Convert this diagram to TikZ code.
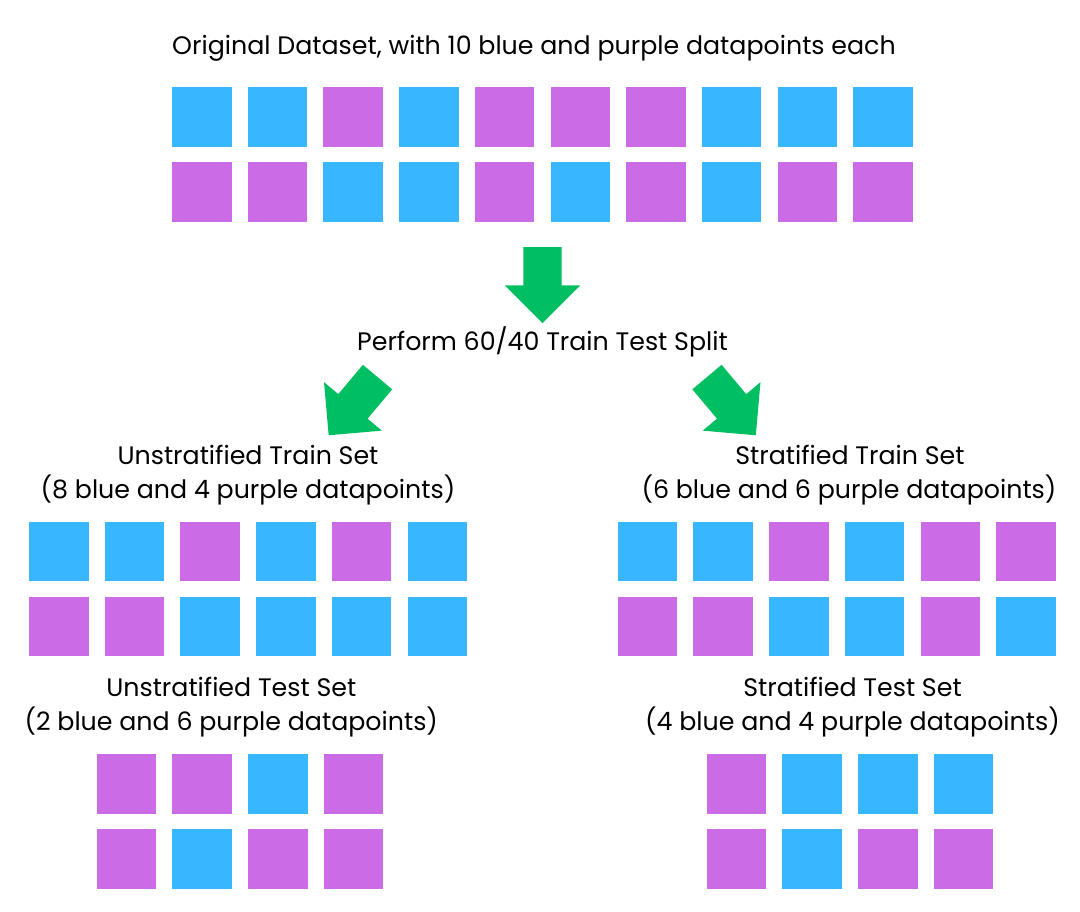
\documentclass[tikz,border=0pt]{standalone}
\usepackage{fontspec}
\setmainfont{Poppins}
\usetikzlibrary{shapes.arrows}

\definecolor{dpb}{HTML}{38B6FF}
\definecolor{dpp}{HTML}{CB6CE6}
\definecolor{arrowgreen}{HTML}{00BF63}

\begin{document}
\begin{tikzpicture}[x=1pt,y=-1pt]
        \tikzset{dp/.style = {fill=dp#1, minimum size=59.5pt, inner sep=0pt}}
        \tikzset{label/.style = {anchor=base, inner sep=0pt, font=\fontsize{25.3pt}{30pt}\selectfont}}
        \tikzset{bigarrow/.style = {single arrow, fill=arrowgreen, inner sep=0pt, inner ysep=18.9pt,
            minimum height=76pt, minimum width=75pt,
            single arrow head extend=18.6pt, single arrow tip angle=90, anchor=tip}}

        \fill[white] (0,0) rectangle (1080,912);
        \useasboundingbox (0,0) rectangle (1080,912);

        % original dataset
        \node[label] (title) at (534,55) {Original Dataset, with 10 blue and purple datapoints each};
        \foreach \r/\y/\cols in {1/116.8/{b,b,p,b,p,p,p,b,b,b}, 2/191.9/{p,p,b,b,p,b,p,b,p,p}}
            \foreach \c [count=\i] in \cols
                \node[dp=\c] (o-\r-\i) at ({201.75+75.7*(\i-1)}, \y) {};

        % split
        \node[bigarrow, rotate=-90] (a-down) at (542.5,323.3) {};
        \node[label] (split) at (542.5,350) {Perform 60/40 Train Test Split};
        \node[bigarrow, rotate=230] (a-left) at (328.5,435.5) {};
        \node[bigarrow, rotate=-50] (a-right) at (756,435.5) {};

        % unstratified
        \node[label] (utrain) at (248,464) {Unstratified Train Set};
        \node[label] (utrain-n) at (248,498) {(8 blue and 4 purple datapoints)};
        \foreach \r/\y/\cols in {1/551.5/{b,b,p,b,p,b}, 2/626.5/{p,p,b,b,b,b}}
            \foreach \c [count=\i] in \cols
                \node[dp=\c] (utr-\r-\i) at ({58.75+75.7*(\i-1)}, \y) {};

        \node[label] (utest) at (231.3,696.7) {Unstratified Test Set};
        \node[label] (utest-n) at (231.3,730.7) {(2 blue and 6 purple datapoints)};
        \foreach \r/\y/\cols in {1/783.8/{p,p,b,p}, 2/859/{p,b,p,p}}
            \foreach \c [count=\i] in \cols
                \node[dp=\c] (ute-\r-\i) at ({126.5+75.7*(\i-1)}, \y) {};

        % stratified
        \node[label] (strain) at (850,464) {Stratified Train Set};
        \node[label] (strain-n) at (849,498) {(6 blue and 6 purple datapoints)};
        \foreach \r/\y/\cols in {1/551.5/{b,b,p,b,p,p}, 2/626.5/{p,p,b,b,p,b}}
            \foreach \c [count=\i] in \cols
                \node[dp=\c] (str-\r-\i) at ({647.5+75.7*(\i-1)}, \y) {};

        \node[label] (stest) at (852.5,696.7) {Stratified Test Set};
        \node[label] (stest-n) at (852.5,730.7) {(4 blue and 4 purple datapoints)};
        \foreach \r/\y/\cols in {1/783.8/{p,b,b,b}, 2/859/{p,b,p,p}}
            \foreach \c [count=\i] in \cols
                \node[dp=\c] (ste-\r-\i) at ({736.5+75.7*(\i-1)}, \y) {};

    \end{tikzpicture}
\end{document}
